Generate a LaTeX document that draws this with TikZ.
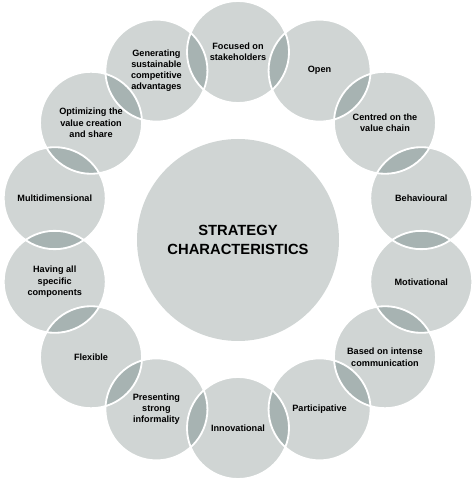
\documentclass[tikz,border=0pt]{standalone}
\usepackage{fontspec}
\setmainfont{Liberation Sans}
\usepackage{xcolor}
\usepackage{tikz}
\usetikzlibrary{calc}
\definecolor{petalgray}{RGB}{208,213,212}
\definecolor{lensgray}{RGB}{167,179,178}
\newcommand{\ringr}{4.7}
\newcommand{\petalr}{1.275}
\tikzset{
  petal/.style={circle,fill=petalgray,inner sep=0pt,minimum size=2.55cm},
  rim/.style={draw=white,line width=1.3pt},
  lens/.style={fill=lensgray},
  ptext/.style={align=center,inner sep=1pt,font=\fontsize{6.5}{8}\selectfont\bfseries},
  core/.style={circle,fill=petalgray,inner sep=0pt,minimum size=5.05cm,
    align=center,font=\fontsize{10.5}{14}\selectfont\bfseries},
}

\begin{document}
\begin{tikzpicture}
\useasboundingbox (0,0) rectangle (11.85,12);
% centre of the ring
\coordinate (o) at (5.95,6.0);
% outer circles, counter-clockwise from the top
\foreach \i in {0,...,13}
  \node[petal] (p\i) at ($(o)+({90+\i*360/14}:\ringr)$) {};
% darker overlap of each circle with the next one
\foreach \i in {0,...,13} {
  \pgfmathtruncatemacro{\j}{mod(\i+1,14)}
  \begin{scope}
    \clip (p\i.center) circle (\petalr);
    \fill[lens] (p\j.center) circle (\petalr);
  \end{scope}
}
% white rims on top
\foreach \i in {0,...,13}
  \draw[rim] (p\i.center) circle (\petalr);
% central circle
\node[core] (core) at (o) {STRATEGY\\CHARACTERISTICS};
% labels of the outer circles
\foreach \i/\txt in {
  0/{Focused on\\stakeholders},
  1/{Generating\\sustainable\\competitive\\advantages},
  2/{Optimizing the\\value creation\\and share},
  3/{Multidimensional},
  4/{Having all\\specific\\components},
  5/{Flexible},
  6/{Presenting\\strong\\informality},
  7/{Innovational},
  8/{Participative},
  9/{Based on intense\\communication},
  10/{Motivational},
  11/{Behavioural},
  12/{Centred on the\\value chain},
  13/{Open}}
  \node[ptext] (t\i) at (p\i) {\txt};
\end{tikzpicture}
\end{document}
